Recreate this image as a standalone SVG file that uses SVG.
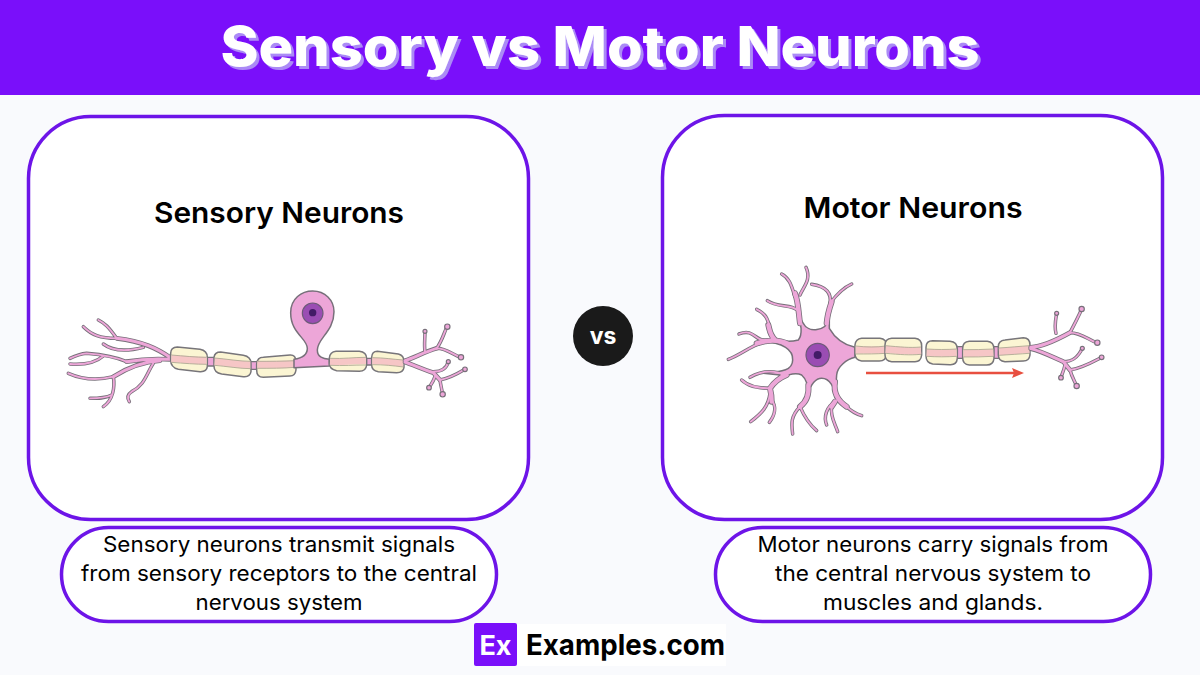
<svg xmlns="http://www.w3.org/2000/svg" xmlns:xlink="http://www.w3.org/1999/xlink" width="1200" height="675" viewBox="0 0 1200 675">
<style>
.card{fill:#fff;stroke:#6d14e8;stroke-width:3.5}
.t{font-family:"Inter","Noto Sans","Liberation Sans",sans-serif;text-anchor:middle;fill:#000}
.h{font-size:29px;font-weight:600}
.b{font-size:21.5px;font-weight:400}
.soma{fill:#eda6d8;stroke:#77707a;stroke-width:4.5;stroke-linejoin:round}
.my{fill:#fbf5d3;stroke:#77757a;stroke-width:4.5}
.ax{fill:#eda6d8;stroke:#77757a;stroke-width:4}
.band{fill:none;stroke:#f6c6c6;stroke-width:20}
.bandl{fill:none;stroke:#a9a690;stroke-width:2.5}
.o1{fill:none;stroke:#77707a;stroke-width:10.5;stroke-linecap:round;stroke-linejoin:round}
.i1{fill:none;stroke:#eda6d8;stroke-width:5.5;stroke-linecap:round;stroke-linejoin:round}
.o2{fill:none;stroke:#77707a;stroke-width:18;stroke-linecap:round;stroke-linejoin:round}
.i2{fill:none;stroke:#eda6d8;stroke-width:13;stroke-linecap:round;stroke-linejoin:round}
.bulb{fill:#eda6d8;stroke:#77707a;stroke-width:3.5}
.nu1{fill:#9a4db3;stroke:#6d5a78;stroke-width:3.5}
.nu2{fill:#431a66}
</style>
<defs>
<filter id="sh" x="-5%" y="-20%" width="110%" height="140%"><feDropShadow dx="3" dy="3" stdDeviation="0" flood-color="#ab8af6"/></filter>
<filter id="soft" x="-5%" y="-5%" width="110%" height="110%"><feGaussianBlur stdDeviation="0.45"/></filter>
<g id="sThin">
<path d="M200 205 C175 170 165 160 145 150M200 205 C150 205 125 195 100 170M280 232 C230 245 190 245 160 222M230 275 C200 262 170 255 110 250 C90 252 75 258 60 265M160 258 C135 280 100 285 60 282M190 320 C150 330 100 330 55 310M190 320 C195 350 190 390 160 410M185 375 C165 385 145 385 120 385M310 280 C290 310 285 345 245 365 C230 375 232 385 238 395"/>
</g>
<g id="sThick">
<path d="M360 262 C320 235 280 215 200 205M360 268 C310 265 270 268 230 275M330 272 C280 275 230 295 190 320" style="stroke-width:inherit"/>
</g>
<g id="sThin2">
<path d="M465 245 C462 225 465 205 465 185M500 235 C515 215 520 195 530 172M500 235 C530 235 550 255 572 262M490 305 C515 305 530 295 535 275M510 330 C540 325 565 310 585 298M495 320 C490 335 482 345 478 352M510 330 C512 345 516 360 518 373"/>
</g>
<g id="sThick2">
<path d="M405 272 C430 265 465 245 500 235M405 276 C430 285 465 300 490 308 L510 330"/>
</g>
<g id="mThin">
<path d="M240 105 C250 80 275 60 258 22M238 155 C215 130 175 145 142 122M330 130 C345 110 365 85 395 72M330 130 C335 100 320 80 275 73M225 110 C215 80 210 55 185 42M150 210 C145 175 135 160 110 148M130 240 C105 240 100 205 57 222M120 250 C90 260 60 285 25 298M175 338 C140 330 110 340 90 352M150 385 C120 385 85 380 65 360M150 400 C145 440 125 460 92 485M155 420 C170 440 165 465 148 487M240 440 C210 470 215 495 218 522M240 440 C255 475 270 495 290 512M380 440 C395 455 410 462 425 467M345 425 C320 440 310 470 320 495M335 440 C330 470 345 490 353 515"/>
</g>
<g id="mThick">
<path d="M240 190 C235 150 235 125 225 100M320 190 C322 165 328 145 335 125M165 240 C150 225 150 215 145 195M205 252 C170 235 140 240 110 250M200 345 C175 355 160 370 150 385 C155 405 155 415 155 425M265 375 C268 405 260 425 240 440M345 365 C340 395 350 420 380 440 M345 425 L335 440"/>
</g>
<g id="mT">
<path d="M392 172 C430 170 470 150 510 128M392 176 C430 185 465 205 490 215 L510 240"/>
</g>
<g id="mT2">
<path d="M468 130 C462 105 468 85 470 70M510 128 C525 100 535 80 545 58M510 128 C545 128 565 150 590 158M490 215 C520 215 535 200 547 175M510 240 C545 235 580 215 605 202M495 225 C492 240 487 250 483 262M510 240 C515 260 525 275 530 288"/>
</g>
</defs>
<rect width="1200" height="675" fill="#f9fafd"/>
<rect id="header" width="1200" height="95" fill="#7a0ffa"/>
<text id="title" x="600" y="66" text-anchor="middle" font-family="Inter,'Noto Sans','Liberation Sans',sans-serif" font-size="55" font-weight="800" fill="#fff" filter="url(#sh)" textLength="759" lengthAdjust="spacingAndGlyphs">Sensory vs Motor Neurons</text>

<g id="sensory-card">
<rect class="card" x="28.5" y="116.5" width="500" height="403" rx="62"/>
<text class="t h" x="279" y="223" textLength="250" lengthAdjust="spacingAndGlyphs">Sensory Neurons</text>
</g>
<g id="sensory-neuron" filter="url(#soft)">
<g transform="translate(50 270) scale(.3333)">
<use xlink:href="#sThin" href="#sThin" class="o1"/>
<use xlink:href="#sThick" href="#sThick" class="o1" style="stroke-width:14"/>
<use xlink:href="#sThin" href="#sThin" class="i1"/>
<use xlink:href="#sThick" href="#sThick" class="i1" style="stroke-width:9"/>
<path class="ax" d="M470 262H495V288H470Z"/>
<path class="ax" d="M600 275H625V298H600Z"/>
<g id="s-m1"><path class="my" d="M382 231 L450 238 Q472 242 472 262 L472 290 Q470 306 450 305 L385 298 Q362 292 362 270 L362 250 Q362 232 382 231Z"/>
<path class="band" style="stroke-width:22" d="M364 266 C400 268 440 272 470 272"/><path class="bandl" d="M364 255 C400 258 440 262 470 262M364 277 C400 280 440 283 470 283"/></g>
<g id="s-m2"><path class="my" d="M512 246 L580 256 Q603 260 603 280 L603 305 Q600 322 580 320 L515 312 Q492 308 492 288 L492 262 Q494 246 512 246Z"/>
<path class="band" style="stroke-width:22" d="M494 275 C530 278 570 285 601 285"/><path class="bandl" d="M494 264 C530 267 570 274 601 274M494 286 C530 289 570 296 601 296"/></g>
<g id="s-m3"><path class="my" d="M640 262 L720 255 Q738 254 738 275 L738 300 Q736 318 720 318 L640 322 Q620 322 620 300 L620 282 Q622 262 640 262Z"/>
<path class="band" style="stroke-width:22" d="M622 284 C660 284 700 284 736 282"/><path class="bandl" d="M622 274 C660 274 700 274 736 272M622 295 C660 295 700 295 736 292"/></g>
</g>
<g transform="translate(270 270) scale(.3333)">
<path class="soma" d="M72 268 C95 265 112 258 112 235 C112 205 62 190 62 128 C62 85 95 63 128 63 C165 63 192 90 192 125 C192 185 142 205 142 240 C142 262 160 266 178 268 L178 288 L72 293Z"/>
<circle class="nu1" cx="128" cy="130" r="31"/><circle class="nu2" cx="128" cy="128" r="11"/>
<path class="ax" d="M288 265H306V285H288Z"/>
<g id="s-m4"><path class="my" d="M198 244 L268 244 Q290 246 290 266 L290 285 Q288 304 268 304 L200 302 Q178 298 178 280 L178 264 Q180 246 198 244Z"/>
<path class="band" style="stroke-width:20" d="M180 275 C220 277 250 272 288 272"/><path class="bandl" d="M180 265 C220 267 250 262 288 262M180 286 C220 288 250 285 288 285"/></g>
<g id="s-m5"><path class="my" d="M322 244 L385 252 Q402 256 402 275 L402 292 Q400 308 380 308 L325 305 Q305 302 305 285 L305 262 Q306 244 322 244Z"/>
<path class="band" style="stroke-width:20" d="M307 273 C340 273 370 278 400 280"/><path class="bandl" d="M307 263 C340 263 370 268 400 270M307 284 C340 284 370 287 400 291"/></g>
<use xlink:href="#sThin2" href="#sThin2" class="o1"/>
<use xlink:href="#sThick2" href="#sThick2" class="o1" style="stroke-width:14"/>
<use xlink:href="#sThin2" href="#sThin2" class="i1"/>
<use xlink:href="#sThick2" href="#sThick2" class="i1" style="stroke-width:9"/>
<circle class="bulb" cx="465" cy="184" r="6"/><circle class="bulb" cx="532" cy="170" r="8"/><circle class="bulb" cx="573" cy="262" r="8"/><circle class="bulb" cx="535" cy="275" r="6"/><circle class="bulb" cx="585" cy="298" r="7"/><circle class="bulb" cx="477" cy="353" r="7"/><circle class="bulb" cx="518" cy="373" r="8"/>
</g>
</g>

<g id="vs"><circle cx="603" cy="336" r="30" fill="#1a1a1a"/><text x="603" y="344" text-anchor="middle" font-family="Inter,'Liberation Sans',sans-serif" font-size="23" font-weight="700" fill="#fff">vs</text></g>

<g id="motor-card">
<rect class="card" x="662.5" y="115.5" width="500" height="404" rx="62"/>
<text class="t h" x="913" y="218" textLength="219" lengthAdjust="spacingAndGlyphs">Motor Neurons</text>
</g>
<g id="motor-neuron" filter="url(#soft)">
<g transform="translate(720 260) scale(.3333)">
<use xlink:href="#mThin" href="#mThin" class="o1"/>
<use xlink:href="#mThick" href="#mThick" class="o2"/>
<path class="soma" d="M405 262 C375 255 345 235 328 205 L328 175 C318 215 265 220 250 190 L232 160 C245 190 248 225 235 240 C215 245 190 245 165 238 L125 244 C190 248 220 270 218 300 C218 330 190 335 130 340 L180 345 L160 372 C190 345 225 335 245 345 C262 360 265 385 262 405 C272 375 285 355 305 355 C330 355 345 385 345 412 L350 345 C352 320 380 298 405 292Z" />
<use xlink:href="#mThin" href="#mThin" class="i1"/>
<use xlink:href="#mThick" href="#mThick" class="i2"/>
<circle class="nu1" cx="293" cy="285" r="35"/><circle class="nu2" cx="293" cy="285" r="12"/>
<g id="m-m1"><path class="my" d="M425 235 L480 235 Q500 237 500 258 L500 282 Q498 303 478 303 L425 303 Q405 300 405 282 L405 255 Q407 237 425 235Z"/>
<path class="band" style="stroke-width:22" d="M407 270 C440 270 470 270 498 270"/><path class="bandl" d="M407 258 C440 262 470 262 498 258M407 282 C440 282 470 282 498 280"/></g>
</g>
<g transform="translate(900 290) scale(.3333)">
<path class="ax" d="M170 170H190V205H170ZM280 170H298V205H280Z"/>
<g id="m-m2"><path class="my" d="M-25 145 L45 145 Q65 147 65 168 L65 195 Q63 215 45 215 L-25 215 Q-45 213 -45 195 L-45 165 Q-45 147 -25 145Z"/>
<path class="band" style="stroke-width:22" d="M-43 178 C0 182 30 185 63 182"/><path class="bandl" d="M-43 167 C0 171 30 174 63 171M-43 190 C0 194 30 196 63 193"/></g>
<g id="m-m3"><path class="my" d="M98 152 L150 154 Q172 156 172 178 L172 205 Q170 225 150 224 L98 222 Q78 218 78 198 L78 172 Q78 152 98 152Z"/>
<path class="band" style="stroke-width:22" d="M80 188 C110 190 140 190 170 188"/><path class="bandl" d="M80 177 C110 179 140 179 170 177M80 199 C110 201 140 201 170 199"/></g>
<g id="m-m4"><path class="my" d="M208 154 L262 154 Q282 156 282 178 L282 205 Q280 225 260 225 L208 225 Q188 223 188 203 L188 175 Q188 156 208 154Z"/>
<path class="band" style="stroke-width:22" d="M190 190 C220 190 250 190 280 188"/><path class="bandl" d="M190 179 C220 179 250 179 280 177M190 201 C220 201 250 201 280 199"/></g>
<g id="m-m5"><path class="my" d="M315 150 L370 143 Q390 143 390 165 L390 195 Q388 213 370 213 L315 215 Q295 213 295 195 L295 170 Q295 152 315 150Z"/>
<path class="band" style="stroke-width:22" d="M297 185 C330 183 360 180 388 178"/><path class="bandl" d="M297 174 C330 172 360 169 388 167M297 196 C330 194 360 192 388 190"/></g>
<use xlink:href="#mT2" href="#mT2" class="o1"/>
<use xlink:href="#mT" href="#mT" class="o1" style="stroke-width:14"/>
<use xlink:href="#mT2" href="#mT2" class="i1"/>
<use xlink:href="#mT" href="#mT" class="i1" style="stroke-width:9"/>
<circle class="bulb" cx="470" cy="70" r="6"/><circle class="bulb" cx="545" cy="57" r="8"/><circle class="bulb" cx="592" cy="158" r="8"/><circle class="bulb" cx="547" cy="175" r="6"/><circle class="bulb" cx="605" cy="202" r="7"/><circle class="bulb" cx="483" cy="263" r="7"/><circle class="bulb" cx="530" cy="288" r="8"/>
</g>
<path d="M866 373H1014" stroke="#e8503f" stroke-width="2.5" fill="none"/><path d="M1012 368 L1024 373 L1012 378 L1014 373Z" fill="#e8503f"/>
</g>

<g id="sensory-desc">
<rect class="card" x="61.5" y="527.5" width="435" height="94" rx="47"/>
<text class="t b" x="279" y="552" textLength="352" lengthAdjust="spacingAndGlyphs">Sensory neurons transmit signals</text>
<text class="t b" x="279" y="581" textLength="396" lengthAdjust="spacingAndGlyphs">from sensory receptors to the central</text>
<text class="t b" x="279" y="610" textLength="167" lengthAdjust="spacingAndGlyphs">nervous system</text>
</g>
<g id="motor-desc">
<rect class="card" x="715.5" y="527.5" width="435" height="94" rx="47"/>
<text class="t b" x="933" y="552" textLength="351" lengthAdjust="spacingAndGlyphs">Motor neurons carry signals from</text>
<text class="t b" x="933" y="581" textLength="316" lengthAdjust="spacingAndGlyphs">the central nervous system to</text>
<text class="t b" x="933" y="610" textLength="220" lengthAdjust="spacingAndGlyphs">muscles and glands.</text>
</g>
<g id="logo">
<rect x="517" y="624" width="209" height="42" fill="#fff"/>
<rect x="474" y="623" width="43" height="43" rx="2" fill="#7a0ffa"/>
<text x="495.5" y="655" text-anchor="middle" font-family="Inter,'Liberation Sans',sans-serif" font-size="27" font-weight="700" fill="#fff">Ex</text>
<text x="526" y="655" font-family="Inter,'Liberation Sans',sans-serif" font-size="29" font-weight="700" fill="#000" textLength="199" lengthAdjust="spacingAndGlyphs">Examples.com</text>
</g>
</svg>
